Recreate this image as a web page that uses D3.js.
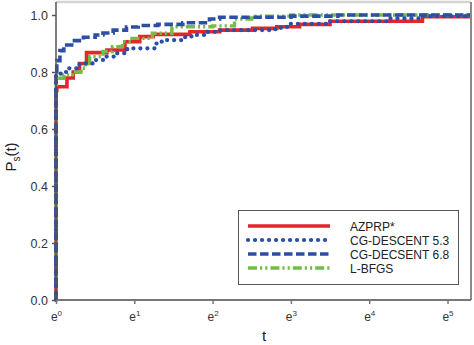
<!DOCTYPE html>
<html>
<head>
<meta charset="utf-8">
<script src="https://cdn.jsdelivr.net/npm/d3@7"></script>
<style>
  html, body { margin: 0; padding: 0; background: #fff; }
  svg { display: block; font-family: "Liberation Sans", Arial, sans-serif; }
</style>
</head>
<body>
<svg id="chart" width="474" height="345"></svg>
<script>
// Performance profiles: x is ln(t), y is P_s(t)
const seriesNames = ["AZPRP*", "CG-DESCENT 5.3", "CG-DECSENT 6.8", "L-BFGS"];

const azprpU = [0, 0, 0.01, 0.14, 0.22, 0.30, 0.39, 0.65, 0.88, 1.07, 1.24, 1.71, 2.09, 2.51, 2.82, 3.11, 3.50, 4.68, 5.3];
const azprpP = [0, 0.735, 0.748, 0.779, 0.800, 0.830, 0.868, 0.877, 0.906, 0.924, 0.932, 0.941, 0.947, 0.953, 0.959, 0.967, 0.978, 0.994, 0.994];

const cg53U = [0, 0, 0.06, 0.14, 0.30, 0.47, 0.60, 0.78, 0.91, 1.26, 1.35, 1.65, 1.73, 1.94, 2.10, 2.80, 2.95, 3.47, 4.22, 4.64, 5.3];
const cg53P = [0, 0.790, 0.800, 0.813, 0.830, 0.842, 0.854, 0.866, 0.883, 0.900, 0.912, 0.924, 0.930, 0.941, 0.947, 0.955, 0.969, 0.978, 0.988, 0.996, 0.996];

const cg68U = [0, 0, 0.01, 0.05, 0.10, 0.20, 0.35, 0.50, 0.60, 0.73, 0.90, 1.05, 1.30, 1.62, 1.96, 2.09, 3.00, 3.60, 5.3];
const cg68P = [0, 0.800, 0.840, 0.875, 0.895, 0.910, 0.922, 0.930, 0.937, 0.947, 0.958, 0.963, 0.967, 0.973, 0.986, 0.992, 0.996, 1.000, 1.000];

const lbfgsU = [0, 0, 0.10, 0.25, 0.32, 0.38, 0.43, 0.60, 0.72, 0.85, 0.97, 1.23, 1.48, 2.00, 2.28, 2.50, 3.00, 5.3];
const lbfgsP = [0, 0.778, 0.790, 0.800, 0.813, 0.830, 0.854, 0.872, 0.889, 0.906, 0.918, 0.936, 0.959, 0.962, 0.986, 0.996, 1.000, 1.000];

const xTicks = [0, 1, 2, 3, 4, 5];
const yTicks = [0, 0.2, 0.4, 0.6, 0.8, 1.0];

const series = [
  { name: seriesNames[0], u: azprpU, p: azprpP, color: "#e3262c", width: 3.6, dash: null, cap: "butt" },
  { name: seriesNames[3], u: lbfgsU, p: lbfgsP, color: "#72bd45", width: 3.4, dash: "9 3 2.2 3 2.2 3", cap: "butt" },
  { name: seriesNames[2], u: cg68U, p: cg68P, color: "#2c4ea3", width: 3.6, dash: "8.5 3.5", cap: "butt" },
  { name: seriesNames[1], u: cg53U, p: cg53P, color: "#2c4ea3", width: 4.2, dash: "0.1 6.9", cap: "round" }
];
const legendOrder = [0, 3, 2, 1];

const svg = d3.select("#chart");
const plotLeft = 56, plotRight = 471, plotTop = 2, plotBottom = 300;

const x = d3.scaleLinear().domain([0, 5.3]).range([plotLeft, plotRight]);
const y = d3.scaleLinear().domain([0, 1]).range([plotBottom, 15]);

// plot frame: light top edge, grey right edge
svg.append("line").attr("x1", plotLeft).attr("x2", plotRight).attr("y1", plotTop).attr("y2", plotTop)
  .attr("stroke", "#d4d4d4").attr("stroke-width", 2.5);
svg.append("line").attr("x1", plotRight).attr("x2", plotRight).attr("y1", plotTop).attr("y2", plotBottom)
  .attr("stroke", "#8a8a8a").attr("stroke-width", 2);

svg.append("clipPath").attr("id", "plotClip")
  .append("rect").attr("x", plotLeft - 3).attr("y", plotTop + 1)
  .attr("width", plotRight - plotLeft + 2).attr("height", plotBottom - plotTop + 2);

const line = d3.line()
  .x(d => x(d[0]))
  .y(d => y(d[1]))
  .curve(d3.curveStepAfter);

const plot = svg.append("g").attr("clip-path", "url(#plotClip)");
series.forEach(s => {
  const pts = s.u.map((u, i) => [u, s.p[i]]);
  plot.append("path")
    .attr("d", line(pts))
    .attr("fill", "none")
    .attr("stroke", s.color)
    .attr("stroke-width", s.width)
    .attr("stroke-linecap", s.cap)
    .attr("stroke-dasharray", s.dash);
});

// axes
const xAxis = svg.append("g").attr("transform", `translate(0,${plotBottom})`)
  .call(d3.axisBottom(x).tickValues(xTicks).tickSize(4).tickFormat(""));
xAxis.select(".domain").attr("stroke", "#777").attr("stroke-width", 2)
  .attr("d", `M${plotLeft},0H${plotRight}`);
xAxis.selectAll(".tick line").attr("stroke", "#777").attr("stroke-width", 1.5);

const xLab = xAxis.selectAll(".tick").append("text")
  .attr("y", 21).attr("fill", "#333").attr("font-size", 12).attr("text-anchor", "middle");
xLab.append("tspan").text("e");
xLab.append("tspan").attr("dy", -5).attr("font-size", 8).text(d => d);

const yAxis = svg.append("g").attr("transform", `translate(${plotLeft},0)`)
  .call(d3.axisLeft(y).tickValues(yTicks).tickSize(4).tickFormat(d3.format(".1f")));
yAxis.select(".domain").attr("stroke", "#555").attr("stroke-width", 1.5)
  .attr("d", `M0,${plotBottom}V${plotTop}`);
yAxis.selectAll(".tick line").attr("stroke", "#555").attr("stroke-width", 1.5);
yAxis.selectAll(".tick text").attr("fill", "#333").attr("font-size", 12.5)
  .attr("font-family", "Liberation Sans, Arial, sans-serif").attr("x", -8);

// axis titles
svg.append("text").attr("x", 264).attr("y", 341).attr("text-anchor", "middle")
  .attr("font-size", 15).attr("fill", "#222").text("t");

const yTitle = svg.append("text").attr("transform", "translate(16,157) rotate(-90)")
  .attr("text-anchor", "middle").attr("font-size", 15).attr("fill", "#222");
yTitle.append("tspan").text("P");
yTitle.append("tspan").attr("dy", 4).attr("font-size", 10).text("s");
yTitle.append("tspan").attr("dy", -4).text("(t)");

// legend
const lg = svg.append("g");
lg.append("rect").attr("x", 238.5).attr("y", 210.5).attr("width", 220).attr("height", 74)
  .attr("fill", "#fff").attr("stroke", "#555").attr("stroke-width", 1);
legendOrder.forEach((si, row) => {
  const s = series[si];
  const ly = 226 + row * 14;
  lg.append("line").attr("x1", 248).attr("x2", 330).attr("y1", ly).attr("y2", ly)
    .attr("stroke", s.color).attr("stroke-width", s.width)
    .attr("stroke-linecap", s.cap).attr("stroke-dasharray", s.dash);
  lg.append("text").attr("x", 350).attr("y", ly + 4.5).attr("font-size", 12)
    .attr("fill", "#222").text(s.name);
});
</script>
</body>
</html>
